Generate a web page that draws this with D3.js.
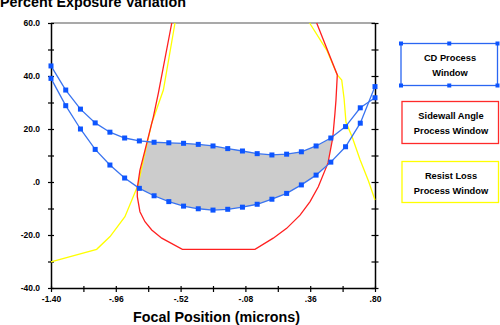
<!DOCTYPE html>
<html><head><meta charset="utf-8">
<script src="https://cdn.jsdelivr.net/npm/d3@7/dist/d3.min.js"></script>
<style>
html,body{margin:0;padding:0;background:#fff;}
svg{display:block;font-family:"Liberation Sans",Arial,sans-serif;}
</style></head>
<body>
<svg id="chart" width="500" height="325"></svg>
<script>
// ---- data ----
const focus = [-1.40,-1.30,-1.20,-1.10,-1.00,-0.90,-0.80,-0.70,-0.60,-0.50,-0.40,-0.30,-0.20,-0.10,0.00,0.10,0.20,0.30,0.40,0.50,0.60,0.70,0.80];
const cdUpper = [43.8,34.7,27.5,22.3,18.8,16.6,15.5,15.0,14.8,14.6,14.2,13.6,12.6,11.7,10.7,10.2,10.5,11.4,13.6,16.6,20.9,28.0,31.8];
const cdLower = [39.1,28.8,20.0,12.3,6.4,1.5,-2.4,-5.2,-7.4,-9.1,-10.1,-10.6,-10.3,-9.5,-8.4,-6.5,-4.3,-1.1,2.6,7.5,13.3,22.2,36.0];
const sidewall = [[-0.580,60],[-0.671,33.5],[-0.705,24.6],[-0.750,14.6],[-0.796,4.5],[-0.814,-2.3],[-0.814,-5.5],[-0.796,-11.2],[-0.762,-15.0],[-0.716,-18.1],[-0.648,-21.2],[-0.508,-25.4],[-0.015,-25.4],[0.109,-21.2],[0.200,-17.5],[0.291,-12.5],[0.359,-7.4],[0.415,-1.8],[0.481,7.2],[0.513,16.6],[0.528,25.9],[0.535,30.9],[0.544,40.4],[0.404,60]];
const resistLeft = [[-0.558,60],[-0.637,34.7],[-0.716,22.2],[-0.773,8.3],[-0.807,-0.5],[-0.818,-2.4],[-0.898,-13.1],[-0.999,-20.6],[-1.090,-25.4],[-1.40,-30.1]];
const resistRight = [[0.356,60],[0.472,49.8],[0.544,40.4],[0.574,38.5],[0.590,31.5],[0.603,22.5],[0.645,17.0],[0.698,8.5],[0.755,0.5],[0.80,-6.8]];
const xTicks = [-1.40,-1.18,-0.96,-0.74,-0.52,-0.30,-0.08,0.14,0.36,0.58,0.80];
const xTickLabels = ["-1.40","","-.96","","-.52","","-.08","",".36","",".80"];
const yTicks = [60,50,40,30,20,10,0,-10,-20,-30,-40];
const yTickLabels = ["60.0","","40.0","","20.0","",".0","","-20.0","","-40.0"];
const legendNames = [["CD Process","Window"],["Sidewall Angle","Process Window"],["Resist Loss","Process Window"]];
const legendColors = ["#2a66f2","#ff2a2a","#ffff00"];
const titleText = "Percent Exposure Variation";
const xTitle = "Focal Position (microns)";

// ---- drawing ----
const svg = d3.select("#chart");
const x = d3.scaleLinear().domain([-1.40,0.80]).range([51,375]);
const y = d3.scaleLinear().domain([-40,60]).range([288,23]);

const defs = svg.append("defs");
const poly = d3.line().x(d=>x(d[0])).y(d=>y(d[1]));
defs.append("clipPath").attr("id","clipRed").append("path").attr("d", poly(sidewall)+"Z");
defs.append("clipPath").attr("id","clipYellow").append("path")
  .attr("d", poly(resistLeft.concat(resistRight.slice().reverse()))+"Z");

const cd = focus.map((f,i)=>({f, up:cdUpper[i], lo:cdLower[i]}));

// gray overlap window
svg.append("g").attr("clip-path","url(#clipRed)")
  .append("path")
  .attr("clip-path","url(#clipYellow)")
  .attr("fill","#cccccc")
  .attr("d", d3.area().x(d=>x(d.f)).y0(d=>y(d.lo)).y1(d=>y(d.up))(cd));

// top border
svg.append("line").attr("x1",51).attr("x2",375).attr("y1",23).attr("y2",23)
  .attr("stroke","#555").attr("stroke-width",1.2);

// axes
const yAxis = d3.axisLeft(y).tickValues(yTicks).tickSizeInner(3).tickSizeOuter(0).tickPadding(8)
  .tickFormat((d,i)=>yTickLabels[i]);
const gy = svg.append("g").attr("transform","translate(51,0)").call(yAxis);
gy.selectAll(".tick line").attr("x1",3).attr("x2",-3);

const yAxisR = d3.axisRight(y).tickValues(yTicks).tickSizeInner(3.5).tickSizeOuter(0).tickFormat("");
const gyr = svg.append("g").attr("transform","translate(375,0)").call(yAxisR);
gyr.selectAll(".tick line").attr("x1",-3.5).attr("x2",3.5);

const xAxis = d3.axisBottom(x).tickValues(xTicks).tickSizeInner(4).tickSizeOuter(0).tickPadding(4)
  .tickFormat((d,i)=>xTickLabels[i]);
const gx = svg.append("g").attr("transform","translate(0,288)").call(xAxis);
gx.selectAll(".tick line").attr("y1",-2);

[gy,gyr,gx].forEach(g=>{
  g.select(".domain").attr("stroke","#000").attr("stroke-width",1.5);
  g.selectAll(".tick line").attr("stroke","#000").attr("stroke-width",1.2);
  g.selectAll("text").attr("font-family","'Liberation Sans',Arial,sans-serif")
    .attr("font-size","8.5px").attr("font-weight","bold").attr("fill","#000");
});

// resist loss (yellow)
[resistLeft,resistRight].forEach(arr=>{
  svg.append("path").attr("d",poly(arr)).attr("fill","none")
    .attr("stroke","#ffff00").attr("stroke-width",1.3);
});
// sidewall (red)
svg.append("path").attr("d",poly(sidewall)).attr("fill","none")
  .attr("stroke","#ff2020").attr("stroke-width",1.3);

// CD curves
[cdUpper,cdLower].forEach(vals=>{
  const pts = focus.map((f,i)=>[f,vals[i]]);
  svg.append("path").attr("d",poly(pts)).attr("fill","none")
    .attr("stroke","#3a74f0").attr("stroke-width",1.3);
  svg.append("g").selectAll("rect").data(pts).join("rect")
    .attr("x",d=>x(d[0])-2.5).attr("y",d=>y(d[1])-2.5)
    .attr("width",5).attr("height",5).attr("fill","#0d55ff");
});

// titles
svg.append("text").attr("x",0).attr("y",6.5).attr("font-size","14.3px").attr("font-weight","bold")
  .text(titleText);
svg.append("text").attr("x",216.5).attr("y",321.7).attr("text-anchor","middle")
  .attr("font-size","14.3px").attr("font-weight","bold").text(xTitle);

// legend
const boxes = [{x:401,y:43.5,h:42},{x:402,y:101.5,h:42},{x:402,y:161.5,h:41}];
legendNames.forEach((names,i)=>{
  const b = boxes[i];
  const g = svg.append("g");
  g.append("rect").attr("x",b.x).attr("y",b.y).attr("width",96.5).attr("height",b.h)
    .attr("fill","none").attr("stroke",legendColors[i]).attr("stroke-width",1.3);
  if(i===0){
    const mk=[];
    [b.x,b.x+48.25,b.x+96.5].forEach(mx=>[b.y,b.y+b.h].forEach(my=>mk.push([mx,my])));
    g.selectAll("rect.mk").data(mk).join("rect").attr("class","mk")
      .attr("x",d=>d[0]-2).attr("y",d=>d[1]-2).attr("width",4).attr("height",4)
      .attr("fill","#0d55ff");
  }
  names.forEach((t,j)=>{
    g.append("text").attr("x",b.x+49).attr("y",b.y+17.5+j*15.2)
      .attr("text-anchor","middle").attr("font-size","9.3px").attr("font-weight","bold").text(t);
  });
});
</script>
</body></html>
